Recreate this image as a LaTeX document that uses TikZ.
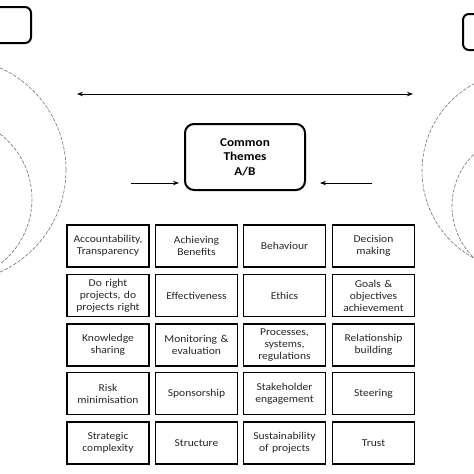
\documentclass[tikz,border=0pt]{standalone}
\usepackage{fontspec}
\setmainfont{Carlito}[FakeStretch=1.1]
\usetikzlibrary{arrows.meta}
\tikzset{
  cell/.style={draw=black, line width=1.1pt, minimum width=82pt, minimum height=42pt,
    inner sep=1pt, align=center, text width=80pt, font=\fontsize{10.5}{12}\selectfont, text=black!85},
  themebox/.style={draw=black, line width=2pt, rounded corners=9pt, minimum width=120pt, minimum height=66pt,
    align=center, font=\fontsize{12}{14.5}\selectfont\bfseries},
  topbox/.style={draw=black, line width=2pt, rounded corners=6pt},
  ring/.style={draw=black!55, line width=0.6pt, dash pattern=on 3.5pt off 1.5pt},
  arr/.style={line width=0.9pt, -{Stealth[length=6pt,width=4.5pt]}},
  darr/.style={line width=0.9pt, {Stealth[length=6pt,width=4.5pt]}-{Stealth[length=6pt,width=4.5pt]}}
}
\begin{document}
\begin{tikzpicture}[x=1pt,y=-1pt]
\useasboundingbox (0,0) rectangle (474,474);
\clip (0,0) rectangle (474,474);
% dashed rings
\draw[ring] (-46,170) circle (112);
\draw[ring] (-50,199) circle (82);
\draw[ring] (521,171) circle (99);
\draw[ring] (524,206) circle (72);
% top boxes (cut off)
\node[topbox, minimum width=60pt, minimum height=36pt] (tl) at (1,25) {};
\node[topbox, minimum width=60pt, minimum height=36pt] (tr) at (493,32) {};
% long arrow
\coordinate (la) at (77,94);
\coordinate (lb) at (413,94);
\draw[darr] (la) -- (lb);
% theme box
\node[themebox] (theme) at (245,157) {Common\\Themes\\A/B};
\coordinate (ain) at (131,183);
\coordinate (aout) at (179,183);
\coordinate (bin) at (372,183);
\coordinate (bout) at (320,183);
\draw[arr] (ain) -- (aout);
\draw[arr] (bin) -- (bout);
% grid
\def\ca{108}\def\cb{196.5}\def\cc{284.5}\def\cd{373.5}
\def\ra{246}\def\rb{295.5}\def\rc{345}\def\rd{393.5}\def\re{443}
\node[cell] (c11) at (\ca,\ra) {Accountability,\\Transparency};
\node[cell] (c12) at (\cb,\ra) {Achieving\\Benefits};
\node[cell] (c13) at (\cc,\ra) {Behaviour};
\node[cell] (c14) at (\cd,\ra) {Decision\\making};
\node[cell] (c21) at (\ca,\rb) {Do right\\projects, do\\projects right};
\node[cell] (c22) at (\cb,\rb) {Effectiveness};
\node[cell] (c23) at (\cc,\rb) {Ethics};
\node[cell] (c24) at (\cd,\rb) {Goals \&\\objectives\\achievement};
\node[cell] (c31) at (\ca,\rc) {Knowledge\\sharing};
\node[cell] (c32) at (\cb,\rc) {Monitoring \&\\evaluation};
\node[cell] (c33) at (\cc,\rc) {Processes,\\systems,\\regulations};
\node[cell] (c34) at (\cd,\rc) {Relationship\\building};
\node[cell] (c41) at (\ca,\rd) {Risk\\minimisation};
\node[cell] (c42) at (\cb,\rd) {Sponsorship};
\node[cell] (c43) at (\cc,\rd) {Stakeholder\\engagement};
\node[cell] (c44) at (\cd,\rd) {Steering};
\node[cell] (c51) at (\ca,\re) {Strategic\\complexity};
\node[cell] (c52) at (\cb,\re) {Structure};
\node[cell] (c53) at (\cc,\re) {Sustainability\\of projects};
\node[cell] (c54) at (\cd,\re) {Trust};
\end{tikzpicture}
\end{document}
